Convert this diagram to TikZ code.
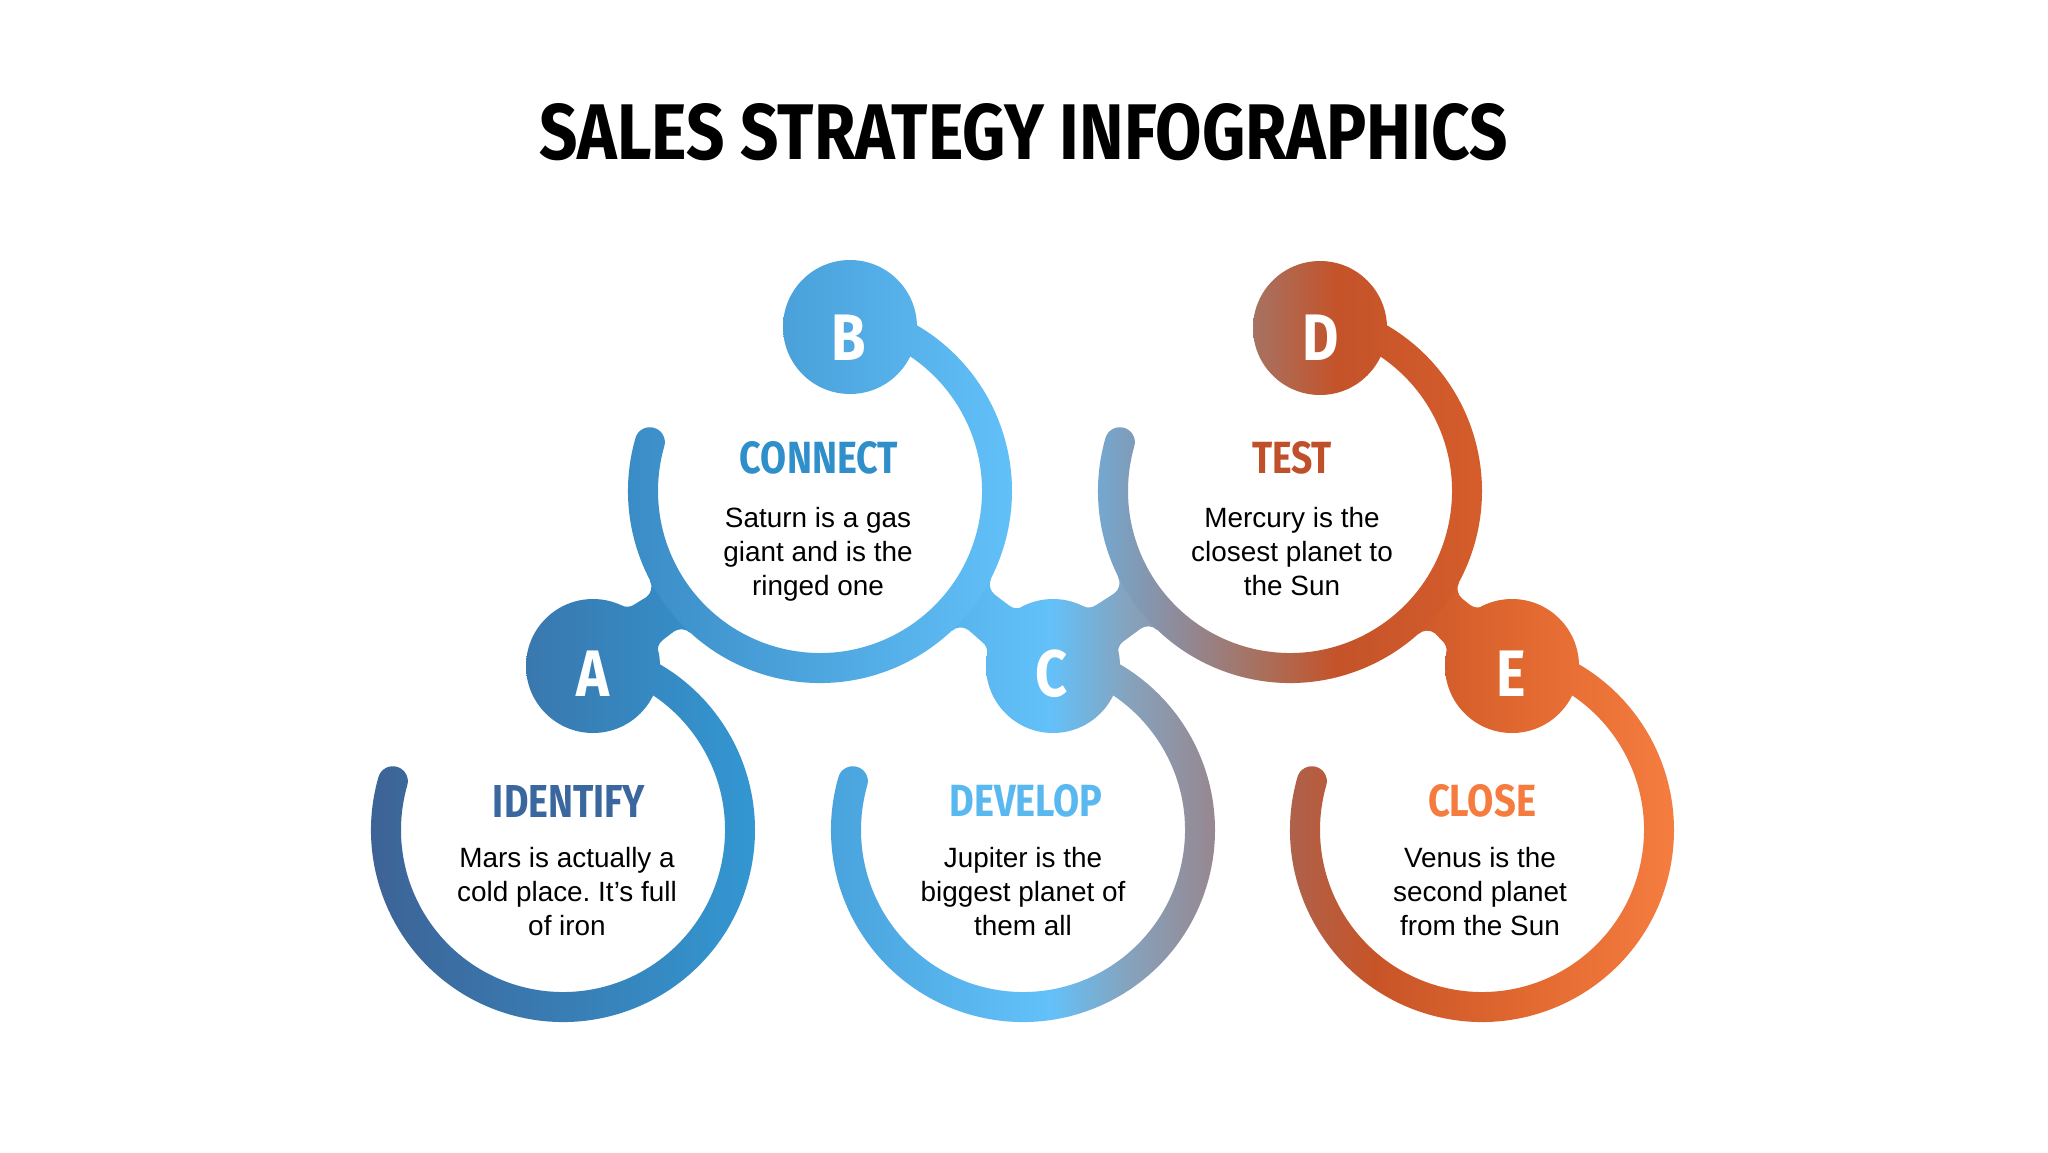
\documentclass[tikz,border=0pt]{standalone}
\usepackage{fontspec}
\usepackage{graphicx}
\newfontfamily\hfont{Fira Sans}
\newfontfamily\bodyfont{Liberation Sans}
\frenchspacing
% group colours
\definecolor{a0}{HTML}{3D6396}\definecolor{a1}{HTML}{3397D2}
\definecolor{b0}{HTML}{3A8CC6}\definecolor{b1}{HTML}{62C0F8}
\definecolor{c0}{HTML}{49A3DC}\definecolor{c1}{HTML}{63C1F9}\definecolor{c2}{HTML}{86A2BC}\definecolor{c3}{HTML}{978790}
\definecolor{d0}{HTML}{74A8D0}\definecolor{d1}{HTML}{8E8C9C}\definecolor{d2}{HTML}{A8705E}\definecolor{d3}{HTML}{C4532A}\definecolor{d4}{HTML}{D65D2B}
\definecolor{e0}{HTML}{AE614B}\definecolor{e1}{HTML}{C75428}\definecolor{e2}{HTML}{E1682F}\definecolor{e3}{HTML}{F67D40}
\definecolor{hA}{HTML}{3B679F}\definecolor{hB}{HTML}{2F8FCB}\definecolor{hC}{HTML}{5AB8F0}\definecolor{hD}{HTML}{C0502A}\definecolor{hE}{HTML}{F57C3E}
\pgfdeclarehorizontalshading{gA}{1152bp}{color(0bp)=(a0); color(371bp)=(a0); color(755bp)=(a1); color(2048bp)=(a1)}
\pgfdeclarehorizontalshading{gB}{1152bp}{color(0bp)=(b0); color(628bp)=(b0); color(1012bp)=(b1); color(2048bp)=(b1)}
\pgfdeclarehorizontalshading{gC}{1152bp}{color(0bp)=(c0); color(831bp)=(c0); color(1050bp)=(c1); color(1130bp)=(c2); color(1215bp)=(c3); color(2048bp)=(c3)}
\pgfdeclarehorizontalshading{gD}{1152bp}{color(0bp)=(d0); color(1098bp)=(d0); color(1175bp)=(d1); color(1259bp)=(d2); color(1336bp)=(d3); color(1482bp)=(d4); color(2048bp)=(d4)}
\pgfdeclarehorizontalshading{gE}{1152bp}{color(0bp)=(e0); color(1290bp)=(e0); color(1374bp)=(e1); color(1520bp)=(e2); color(1674bp)=(e3); color(2048bp)=(e3)}
% paint a region with a group shading
\newcommand\gclip[2]{\begin{scope}\clip #2; \pgftext[left,bottom,at={\pgfpoint{0bp}{-1152bp}}]{\pgfuseshading{#1}}\end{scope}}
% open ring: shading, centre x, centre y
\newcommand\ringarc[3]{\gclip{#1}{[shift={(#2,#3)}] (164:192) arc[start angle=164,end angle=440,radius=192] -- (440:162) arc[start angle=440,end angle=164,radius=162] arc[start angle=-16,end angle=164,radius=15] -- cycle}}
% neck: shading, circle x, circle y, angle, distance to ring centre  (half width 22, fillet 13)
\newcommand\neck[5]{\gclip{#1}{[shift={(#2,#3)},rotate=#4] (59.6,30.3) arc[start angle=208,end angle=270,radius=13] -- ({#5-202.2},22) arc[start angle=270,end angle=350,radius=13] -- ({#5-171},44) -- ({#5-171},-44) -- ({#5-189.4},-32.8) arc[start angle=10,end angle=90,radius=13] -- (71.1,-22) arc[start angle=90,end angle=152,radius=13] -- (40,-42) -- (40,42) -- cycle}}
\newcommand\disc[3]{\gclip{#1}{(#2,#3) circle[radius=67]}}
\tikzset{
  hd/.style={inner sep=0pt, outer sep=0pt},
  bd/.style={inner sep=0pt, outer sep=0pt, anchor=base, font=\bodyfont\fontsize{28}{34}\selectfont, text=black},
  lt/.style={inner sep=0pt, outer sep=0pt, text=white, xscale=0.85, font=\hfont\bfseries\fontsize{66}{66}\selectfont}
}
\begin{document}
\begin{tikzpicture}[x=1bp,y=1bp]
\useasboundingbox (0,0) rectangle (2048,-1152);
\fill[white] (0,0) rectangle (2048,-1152);
% title
\node[hd] (title) at (1023.5,-132.5) {\resizebox{968bp}{56bp}{\hfont\bfseries SALES STRATEGY INFOGRAPHICS}};
% necks (under the rings)
\neck{gA}{593}{-666}{37.63}{286.6}
\neck{gC}{1053}{-666}{143.09}{291.4}
\neck{gC}{1053}{-666}{36.44}{294.6}
\neck{gE}{1512}{-666}{141.75}{282.7}
% rings
\ringarc{gA}{563}{-830}
\ringarc{gB}{820}{-491}
\ringarc{gC}{1023}{-830}
\ringarc{gD}{1290}{-491}
\ringarc{gE}{1482}{-830}
% discs
\disc{gA}{593}{-666}
\disc{gB}{850}{-327}
\disc{gC}{1053}{-666}
\disc{gD}{1320}{-328}
\disc{gE}{1512}{-666}
% letters
\node[lt] (lA) at (593,-674) {A};
\node[lt] (lB) at (849,-338) {B};
\node[lt] (lC) at (1052,-674) {C};
\node[lt] (lD) at (1321,-338) {D};
\node[lt] (lE) at (1511,-674) {E};
% headings
\node[hd] (hIdentify) at (569,-801) {\resizebox{152bp}{32bp}{\color{hA}\hfont\bfseries IDENTIFY}};
\node[hd] (hConnect) at (819,-458) {\resizebox{158bp}{32bp}{\color{hB}\hfont\bfseries CONNECT}};
\node[hd] (hDevelop) at (1026,-801) {\resizebox{153bp}{32bp}{\color{hC}\hfont\bfseries DEVELOP}};
\node[hd] (hTest) at (1292,-458) {\resizebox{80bp}{32bp}{\color{hD}\hfont\bfseries TEST}};
\node[hd] (hClose) at (1482,-801) {\resizebox{108bp}{32bp}{\color{hE}\hfont\bfseries CLOSE}};
% body texts
\node[bd] (a1) at (567,-867) {Mars is actually a};
\node[bd] (a2) at (567,-901) {cold place. It’s full};
\node[bd] (a3) at (567,-935) {of iron};
\node[bd] (b1) at (818,-527) {Saturn is a gas};
\node[bd] (b2) at (818,-561) {giant and is the};
\node[bd] (b3) at (818,-595) {ringed one};
\node[bd] (c1) at (1023,-867) {Jupiter is the};
\node[bd] (c2) at (1023,-901) {biggest planet of};
\node[bd] (c3) at (1023,-935) {them all};
\node[bd] (d1) at (1292,-527) {Mercury is the};
\node[bd] (d2) at (1292,-561) {closest planet to};
\node[bd] (d3) at (1292,-595) {the Sun};
\node[bd] (e1) at (1480,-867) {Venus is the};
\node[bd] (e2) at (1480,-901) {second planet};
\node[bd] (e3) at (1480,-935) {from the Sun};
\end{tikzpicture}
\end{document}
